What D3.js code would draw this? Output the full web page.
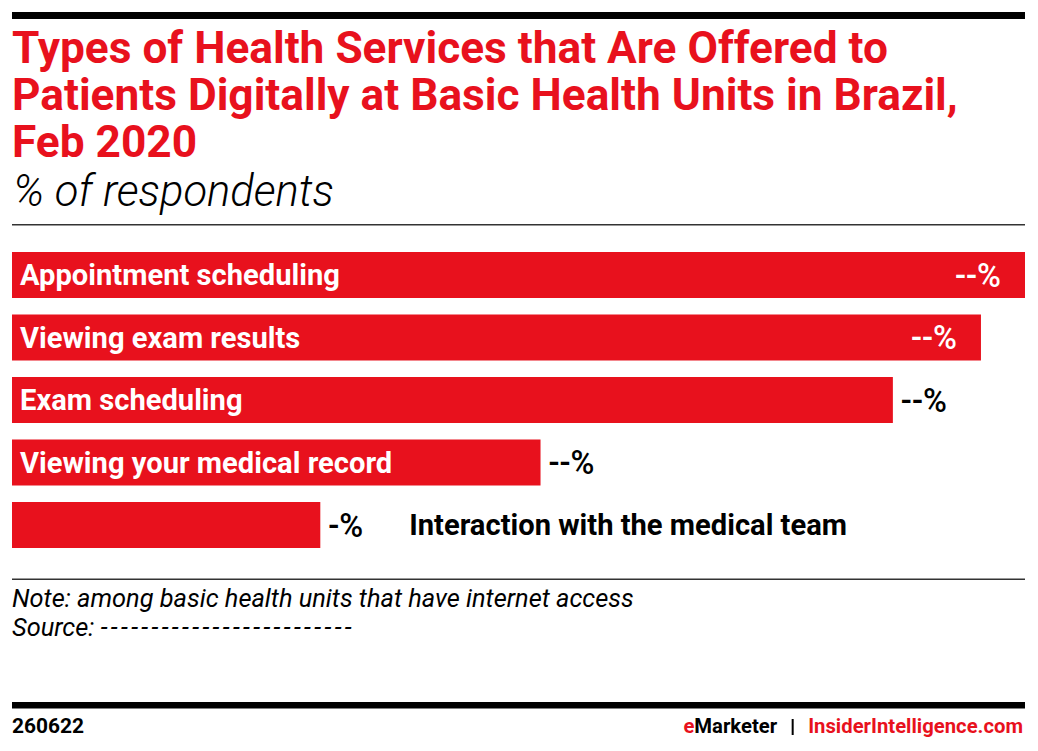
<!DOCTYPE html>
<html>
<head>
<meta charset="utf-8">
<script src="https://cdn.jsdelivr.net/npm/d3@7"></script>
<style>
  html, body { margin: 0; padding: 0; background: #fff; }
  svg { display: block; }
  text { font-family: Roboto, "Noto Sans", sans-serif; }
</style>
</head>
<body>
<svg id="chart" width="1038" height="751"></svg>
<script>
// ---- data ----
const categories = [
  "Appointment scheduling",
  "Viewing exam results",
  "Exam scheduling",
  "Viewing your medical record",
  "Interaction with the medical team"
];
const values = [46, 44, 40, 24, 14];
const valueLabels = ["--%", "--%", "--%", "--%", "-%"];
const titleLines = [
  "Types of Health Services that Are Offered to",
  "Patients Digitally at Basic Health Units in Brazil,",
  "Feb 2020"
];
const subtitle = "% of respondents";
const noteText = "Note: among basic health units that have internet access";
const sourceLabel = "Source: ";
const sourceText = "-------------------------";
const chartId = "260622";

// ---- layout ----
const left = 12, right = 1025;
const red = "#e8111d";
const svg = d3.select("#chart");

// fit a text's font-size so its rendered width matches target width
function fitSize(sel, target) {
  const fs0 = +sel.attr("font-size");
  const w = sel.node().getComputedTextLength();
  const fs = fs0 * target / w;
  sel.attr("font-size", fs);
  return fs;
}

// top rule
svg.append("rect").attr("x", left).attr("y", 12).attr("width", right - left).attr("height", 7).attr("fill", "#000");

// title
const titles = svg.append("g").selectAll("text").data(titleLines).join("text")
  .attr("x", left).attr("y", (d, i) => 63 + i * 47)
  .attr("fill", red).attr("font-weight", 700).attr("font-size", 40)
  .text(d => d);
const tfs = fitSize(d3.select(titles.nodes()[0]), 876);
titles.attr("font-size", tfs);

const sub = svg.append("text").attr("x", left + 1).attr("y", 206)
  .attr("font-style", "italic").attr("font-weight", 300).attr("font-size", 34).attr("fill", "#000")
  .text(subtitle);
fitSize(sub, 321);

svg.append("rect").attr("x", left).attr("y", 224).attr("width", right - left).attr("height", 1.5).attr("fill", "#333");

// scales
const x = d3.scaleLinear().domain([0, d3.max(values)]).range([left, right]);
const y = d3.scaleBand().domain(categories).range([252, 548]).paddingInner(0.264).paddingOuter(0);

const rows = categories.map((c, i) => ({ c, v: values[i], lab: valueLabels[i] }));

// label sizes
const probe = svg.append("text").attr("font-size", 26).attr("font-weight", 700).text(categories[0]);
const catFs = fitSize(probe, 320);
probe.remove();
const probe2 = svg.append("text").attr("font-size", 26).attr("font-weight", 500).text("--%");
const valFs = fitSize(probe2, 46);
probe2.remove();

const g = svg.append("g");
const row = g.selectAll("g.row").data(rows).join("g").attr("class", "row");

row.append("rect")
  .attr("x", x(0)).attr("y", d => y(d.c))
  .attr("width", d => x(d.v) - x(0)).attr("height", y.bandwidth())
  .attr("fill", red);

const maxV = d3.max(values);
row.each(function(d) {
  const sel = d3.select(this);
  const cy = y(d.c) + y.bandwidth() / 2;
  const barEnd = x(d.v);
  const catT = sel.append("text").attr("font-size", catFs).attr("font-weight", 700)
    .attr("dy", "0.355em").text(d.c);
  const catW = catT.node().getComputedTextLength();
  const valT = sel.append("text").attr("font-size", valFs).attr("font-weight", 500)
    .attr("dy", "0.355em").text(d.lab);
  const valW = valT.node().getComputedTextLength();
  const catInside = catW + 16 < barEnd - x(0);
  if (catInside) {
    catT.attr("x", x(0) + 8).attr("y", cy).attr("fill", "#fff");
    if (d.v >= 0.95 * maxV) {
      valT.attr("x", barEnd - 24).attr("y", cy).attr("text-anchor", "end").attr("fill", "#fff");
    } else {
      valT.attr("x", barEnd + 8).attr("y", cy).attr("fill", "#000");
    }
  } else {
    valT.attr("x", barEnd + 8).attr("y", cy).attr("fill", "#000");
    catT.attr("x", barEnd + 8 + valW + 46).attr("y", cy).attr("fill", "#000");
  }
});

// bottom rule
svg.append("rect").attr("x", left).attr("y", 578.5).attr("width", right - left).attr("height", 1.5).attr("fill", "#333");

const note = svg.append("text").attr("x", left).attr("y", 607)
  .attr("font-style", "italic").attr("font-weight", 400).attr("font-size", 21).attr("fill", "#000")
  .text(noteText);
const nfs = fitSize(note, 622);

const src = svg.append("text").attr("x", left).attr("y", 636)
  .attr("font-style", "italic").attr("font-weight", 400).attr("font-size", nfs).attr("fill", "#000");
src.append("tspan").text(sourceLabel);
const dashes = src.append("tspan").text(sourceText);
// stretch dash run to reach reference extent
const srcW = src.node().getComputedTextLength();
const extra = (343 - srcW) / sourceText.length;
dashes.attr("letter-spacing", extra);

svg.append("rect").attr("x", left).attr("y", 702).attr("width", right - left).attr("height", 6.5).attr("fill", "#000");

const idT = svg.append("text").attr("x", left).attr("y", 733)
  .attr("font-weight", 700).attr("font-size", 18).attr("fill", "#000").text(chartId);
fitSize(idT, 72);

const ii = svg.append("text").attr("x", 1023).attr("y", 733).attr("text-anchor", "end")
  .attr("font-weight", 700).attr("font-size", 18).attr("fill", red).text("InsiderIntelligence.com");
const ffs = fitSize(ii, 215);
const iiStart = 1023 - ii.node().getComputedTextLength();
svg.append("rect").attr("x", iiStart - 16.5).attr("y", 719).attr("width", 2).attr("height", 16).attr("fill", "#000");
const em = svg.append("text").attr("x", iiStart - 31).attr("y", 733).attr("text-anchor", "end")
  .attr("font-weight", 700).attr("font-size", ffs);
em.append("tspan").attr("fill", red).text("e");
em.append("tspan").attr("fill", "#000").text("Marketer");
</script>
</body>
</html>
